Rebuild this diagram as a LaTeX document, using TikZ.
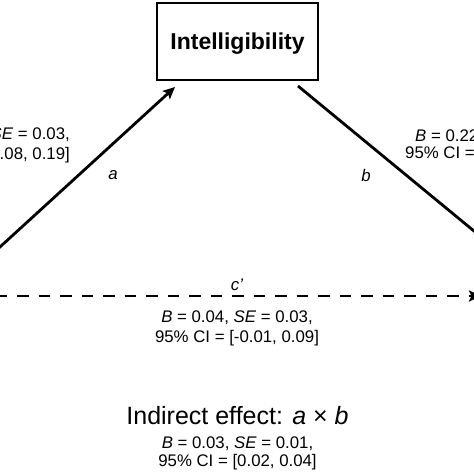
\documentclass[tikz,border=0pt]{standalone}
\usepackage{fontspec}
\setmainfont{Liberation Sans}
\usetikzlibrary{arrows.meta,positioning}

\begin{document}
\begin{tikzpicture}[x=1pt,y=-1pt,
  box/.style={draw,line width=1.3pt,minimum width=161pt,minimum height=77pt,inner sep=0pt,text depth=0pt,font=\fontsize{23}{27}\selectfont\bfseries},
  stats/.style={inner sep=0pt,align=center,font=\fontsize{16.8}{20}\selectfont},
  pathlbl/.style={inner sep=0pt,font=\fontsize{16.8}{20}\selectfont\itshape},
  link/.style={line width=2.8pt},
  arr/.style={-{Stealth[length=12pt,width=11pt,inset=2.5pt]},line width=2.8pt}]
\useasboundingbox (0,0) rectangle (474,474);
\node[box] (intel) at (237.5,41.5) {Intelligibility};
\coordinate (xEnd) at (-10,256.1);
\coordinate (aTip) at (175,87);
\coordinate (bStart) at (298,86);
\coordinate (yEnd) at (486,240.9);
\coordinate (cStart) at (-4.5,296);
\coordinate (cTip) at (481,296);
% paths a, b, c'
\draw[arr] (xEnd) -- (aTip);
\draw[link] (bStart) -- (yEnd);
\draw[arr,dash pattern=on 11.5pt off 10pt] (cStart) -- (cTip);
\node[pathlbl] (aLbl) at (113,175) {a};
\node[pathlbl] (bLbl) at (366,175) {b};
\node[pathlbl] (cLbl) at (237,285) {c'};
% estimates
\node[stats,align=right,anchor=east] (aStats) at (70,145) {\textit{SE} = 0.03,\\{[}0.08, 0.19]};
\node[stats,anchor=west] (bStatsB) at (415,136) {\textit{B} = 0.22};
\node[stats,anchor=west] (bStatsCI) at (405,152.5) {95\% CI =};
\node[stats] (cStats) at (237,328) {\textit{B} = 0.04, \textit{SE} = 0.03,\\95\% CI = [-0.01, 0.09]};
\node[inner sep=0pt,font=\fontsize{25}{30}\selectfont] (ind) at (237.5,416) {Indirect effect: \textit{a} × \textit{b}};
\node[stats,font=\fontsize{16.8}{18.3}\selectfont,below=11pt of ind] (indStats) {\textit{B} = 0.03, \textit{SE} = 0.01,\\95\% CI = [0.02, 0.04]};
\end{tikzpicture}
\end{document}
